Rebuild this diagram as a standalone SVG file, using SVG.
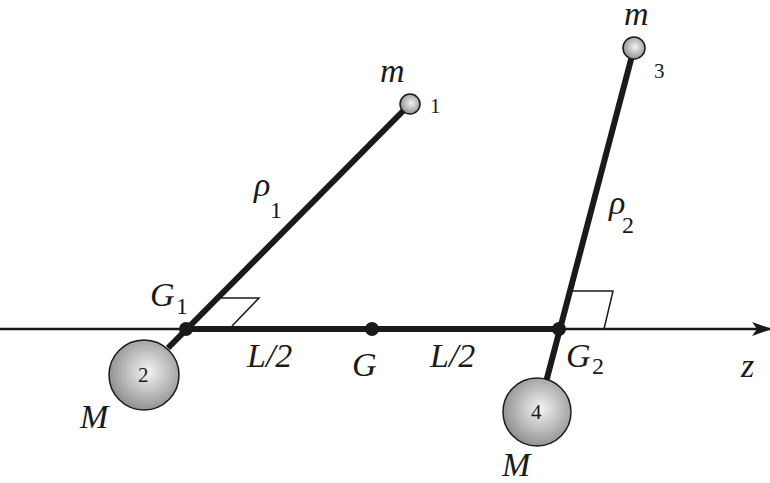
<svg xmlns="http://www.w3.org/2000/svg" width="770" height="483" viewBox="0 0 770 483">
<defs>
<radialGradient id="g" cx="0.55" cy="0.45" r="0.6"><stop offset="0" stop-color="#f4f4f4"/><stop offset="1" stop-color="#8a8a8a"/></radialGradient>
<marker id="ar" markerWidth="20" markerHeight="14" refX="18" refY="7" orient="auto" markerUnits="userSpaceOnUse"><path d="M0,0 L20,7 L0,14 L5,7 Z" fill="#1a1a1a"/></marker>
</defs>
<style>
text{font-family:"Liberation Serif","Times New Roman","DejaVu Serif",serif;fill:#1a1a1a}
.t{font-style:italic;font-size:34px}
.s{font-size:24px}
.n{font-size:21px}
.ball{fill:url(#g);stroke:#1a1a1a;stroke-width:1.5}
.rod{stroke:#1a1a1a;stroke-width:6;fill:none}
.thin{stroke:#1a1a1a;stroke-width:1.5;fill:none}
</style>
<g id="connectors">
<line x1="0" y1="329" x2="770" y2="329" stroke="#1a1a1a" stroke-width="2.5" marker-end="url(#ar)"/>
<line class="rod" x1="168" y1="348" x2="408" y2="106"/>
<line class="rod" x1="546" y1="382" x2="633" y2="52"/>
<line class="rod" x1="186" y1="329" x2="559" y2="329"/>
<polyline class="thin" points="218,298 259,298 232,326"/>
<polyline class="thin" points="570,291 613,291 604,329"/>
</g>
<g id="m1"><circle class="ball" cx="410" cy="104" r="10"/><text class="t" x="380" y="82">m</text><text class="n" x="430" y="113">1</text></g>
<g id="m3"><circle class="ball" cx="634" cy="48" r="11"/><text class="t" x="624" y="25">m</text><text class="n" x="654" y="78">3</text></g>
<g id="M2"><circle class="ball" cx="144" cy="375" r="35"/><text class="n" x="138" y="382">2</text><text class="t" x="80" y="428">M</text></g>
<g id="M4"><circle class="ball" cx="537" cy="412" r="34"/><text class="n" x="531" y="419">4</text><text class="t" x="502" y="476">M</text></g>
<g id="G1"><circle cx="186" cy="329" r="7" fill="#1a1a1a"/><text class="t" x="150" y="306">G</text><text class="s" x="176" y="314">1</text></g>
<g id="G"><circle cx="372" cy="329" r="7" fill="#1a1a1a"/><text class="t" x="352" y="376">G</text></g>
<g id="G2"><circle cx="559" cy="329" r="7" fill="#1a1a1a"/><text class="t" x="566" y="367">G</text><text class="s" x="592" y="374">2</text></g>
<g id="labels">
<text class="t" x="247" y="367">L/2</text>
<text class="t" x="430" y="367">L/2</text>
<text class="t" x="741" y="377">z</text>
<text class="t" x="254" y="196">ρ</text><text class="s" x="270" y="218">1</text>
<text class="t" x="609" y="214">ρ</text><text class="s" x="622" y="233">2</text>
</g>
</svg>
